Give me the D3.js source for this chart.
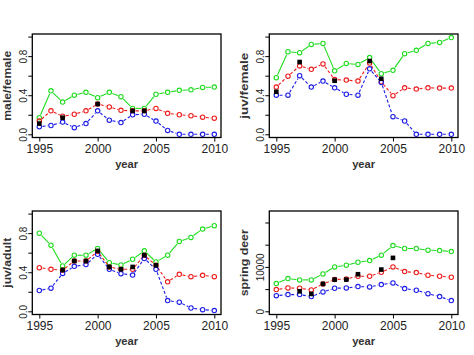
<!DOCTYPE html>
<html><head><meta charset="utf-8">
<script src="https://cdn.jsdelivr.net/npm/d3@7"></script>
<style>body{margin:0;background:#fff}svg{display:block}</style>
</head><body>
<svg id="chart" width="474" height="355"></svg>
<script>
// ---------- data ----------
const years = [1995,1996,1997,1998,1999,2000,2001,2002,2003,2004,2005,2006,2007,2008,2009,2010];
const xTicks = [1995,2000,2005,2010];

const mfHigh = [0.17,0.445,0.33,0.40,0.43,0.375,0.43,0.385,0.265,0.265,0.41,0.43,0.45,0.455,0.48,0.483];
const mfMid  = [0.135,0.24,0.185,0.205,0.24,0.31,0.28,0.245,0.24,0.24,0.265,0.215,0.20,0.19,0.175,0.165];
const mfLow  = [0.078,0.09,0.125,0.068,0.11,0.24,0.145,0.12,0.20,0.205,0.135,0.04,0.0,0.0,0.0,0.0];
const mfObsYears = [1995,1997,2000,2003,2004];
const mfObs      = [0.11,0.17,0.31,0.24,0.24];

const jfHigh = [0.58,0.845,0.835,0.92,0.93,0.65,0.725,0.715,0.785,0.62,0.655,0.825,0.86,0.93,0.94,0.99];
const jfMid  = [0.483,0.595,0.70,0.665,0.72,0.56,0.555,0.545,0.73,0.537,0.395,0.476,0.463,0.476,0.473,0.473];
const jfLow  = [0.40,0.40,0.60,0.483,0.545,0.476,0.41,0.40,0.67,0.53,0.18,0.136,0.0,0.0,0.0,0.0];
const jfObsYears = [1995,1997,2000,2003,2004];
const jfObs      = [0.435,0.74,0.548,0.75,0.568];

const jaHigh = [0.80,0.677,0.464,0.574,0.574,0.643,0.498,0.474,0.533,0.619,0.505,0.574,0.715,0.756,0.842,0.876];
const jaMid  = [0.447,0.43,0.42,0.515,0.515,0.612,0.454,0.43,0.43,0.574,0.471,0.302,0.378,0.354,0.368,0.354];
const jaLow  = [0.213,0.237,0.388,0.46,0.478,0.584,0.43,0.385,0.371,0.54,0.43,0.11,0.093,0.034,0.017,0.007];
const jaObsYears = [1997,1998,1999,2000,2001,2002,2003,2004,2005];
const jaObs      = [0.423,0.515,0.515,0.618,0.454,0.43,0.454,0.574,0.471];

const sdHigh = [6240,7370,7070,7070,8420,10000,10380,11050,11430,12630,14810,14140,14140,13760,13680,13460];
const sdMid  = [4890,5260,5190,4810,6170,7140,7290,7890,7890,8800,10000,8950,8720,8120,7890,7670];
const sdLow  = [3530,3760,3760,3310,4360,5190,5260,5560,5490,6020,6390,5110,4740,3980,3310,2410];
const sdObsYears = [1997,1998,1999,2000,2001,2002,2004,2005];
const sdObs      = [4510,3910,6170,7140,7140,8350,9400,12030];

const ratioTicks = [0,0.2,0.4,0.6,0.8,1.0];
const ratioTickLabels = [0,0.4,0.8];
const deerTicks = [0,5000,10000,15000,20000];
const deerTickLabels = [0,10000];

const panels = [
  {ylab:"male/female", ylabLen:70, high:mfHigh, mid:mfMid, low:mfLow, obsYears:mfObsYears, obs:mfObs, ticks:ratioTicks, labels:ratioTickLabels, ymax:1, fmt:d3.format(".1f")},
  {ylab:"juv/female", ylabLen:66, high:jfHigh, mid:jfMid, low:jfLow, obsYears:jfObsYears, obs:jfObs, ticks:ratioTicks, labels:ratioTickLabels, ymax:1, fmt:d3.format(".1f")},
  {ylab:"juv/adult", ylabLen:50, high:jaHigh, mid:jaMid, low:jaLow, obsYears:jaObsYears, obs:jaObs, ticks:ratioTicks, labels:ratioTickLabels, ymax:1, fmt:d3.format(".1f")},
  {ylab:"spring deer", ylabLen:67, high:sdHigh, mid:sdMid, low:sdLow, obsYears:sdObsYears, obs:sdObs, ticks:deerTicks, labels:deerTickLabels, ymax:20000, fmt:d3.format("d")}
];

// ---------- drawing ----------
const svg = d3.select("#chart");
const FONT = "'Liberation Sans', Arial, sans-serif";
const colHigh = "#1fdc1f", colMid = "#ee1c1c", colLow = "#1c1ce6";

const frame = {left:32.3, right:221, top:34, bottom:137.5};
const x = d3.scaleLinear().domain([1995,2010]).range([39.3,214.3]);

panels.forEach((p, i) => {
  const col = i % 2, row = Math.floor(i / 2);
  const g = svg.append("g").attr("transform", `translate(${col*237},${row*177})`);
  const y = p.ymax === 1
    ? d3.scaleLinear().domain([0,1]).range([134.3,36.6])
    : d3.scaleLinear().domain([0,20000]).range([134.3,45.5]);

  // series with R "type=b" style gaps
  function series(vals, color, dash) {
    const pts = years.map((yr, k) => [x(yr), y(vals[k])]);
    const gap = 3.2;
    const segs = [];
    for (let k = 0; k < pts.length - 1; k++) {
      const [x0,y0] = pts[k], [x1,y1] = pts[k+1];
      const dx = x1-x0, dy = y1-y0, L = Math.hypot(dx,dy);
      if (L <= 2*gap) continue;
      const ux = dx/L, uy = dy/L;
      segs.push([x0+ux*gap, y0+uy*gap, x1-ux*gap, y1-uy*gap]);
    }
    g.append("g").selectAll("line").data(segs).join("line")
      .attr("x1", d => d[0]).attr("y1", d => d[1])
      .attr("x2", d => d[2]).attr("y2", d => d[3])
      .attr("stroke", color).attr("stroke-width", 1.1)
      .attr("stroke-dasharray", dash || null);
    g.append("g").selectAll("circle").data(pts).join("circle")
      .attr("cx", d => d[0]).attr("cy", d => d[1]).attr("r", 2.2)
      .attr("fill", "none").attr("stroke", color).attr("stroke-width", 1.1);
  }
  series(p.high, colHigh, null);
  series(p.mid, colMid, "3,2");
  series(p.low, colLow, "3,2");

  // observed squares
  g.append("g").selectAll("rect").data(p.obsYears.map((yr,k) => [yr, p.obs[k]])).join("rect")
    .attr("x", d => x(d[0]) - 2.3).attr("y", d => y(d[1]) - 2.3)
    .attr("width", 4.6).attr("height", 4.6).attr("fill", "#000");

  // frame
  g.append("rect").attr("x", frame.left).attr("y", frame.top)
    .attr("width", frame.right - frame.left).attr("height", frame.bottom - frame.top)
    .attr("fill", "none").attr("stroke", "#000").attr("stroke-width", 1.3);

  // x axis
  const xa = g.append("g").attr("transform", `translate(0,${frame.bottom})`)
    .call(d3.axisBottom(x).tickValues(xTicks).tickSize(4).tickFormat(d3.format("d")));
  xa.select(".domain").remove();
  xa.selectAll("line").attr("stroke", "#000");
  xa.selectAll("text").attr("font-family", FONT).attr("font-size", 12).attr("fill", "#222")
    .attr("y", 7).attr("dy", "0.72em");

  // y axis
  const ya = g.append("g").attr("transform", `translate(${frame.left},0)`)
    .call(d3.axisLeft(y).tickValues(p.ticks).tickSize(4)
      .tickFormat(d => p.labels.includes(d) ? p.fmt(d) : ""));
  ya.select(".domain").remove();
  ya.selectAll("line").attr("stroke", "#000");
  ya.selectAll("text").attr("font-family", FONT).attr("font-size", 10).attr("fill", "#222")
    .attr("transform", "rotate(-90)").attr("x", 0).attr("y", -5.8).attr("dy", 0)
    .attr("text-anchor", "middle");

  // axis titles
  g.append("text").attr("x", (frame.left + frame.right)/2).attr("y", 168)
    .attr("text-anchor", "middle").attr("font-family", FONT).attr("font-size", 11)
    .attr("font-weight", "bold").attr("fill", "#333")
    .attr("textLength", 23).attr("lengthAdjust", "spacingAndGlyphs").text("year");
  g.append("text").attr("transform", `translate(10.5,${(frame.top + frame.bottom)/2}) rotate(-90)`)
    .attr("text-anchor", "middle").attr("font-family", FONT).attr("font-size", 11)
    .attr("font-weight", "bold").attr("fill", "#333")
    .attr("textLength", p.ylabLen).attr("lengthAdjust", "spacingAndGlyphs").text(p.ylab);
});
</script>
</body></html>
